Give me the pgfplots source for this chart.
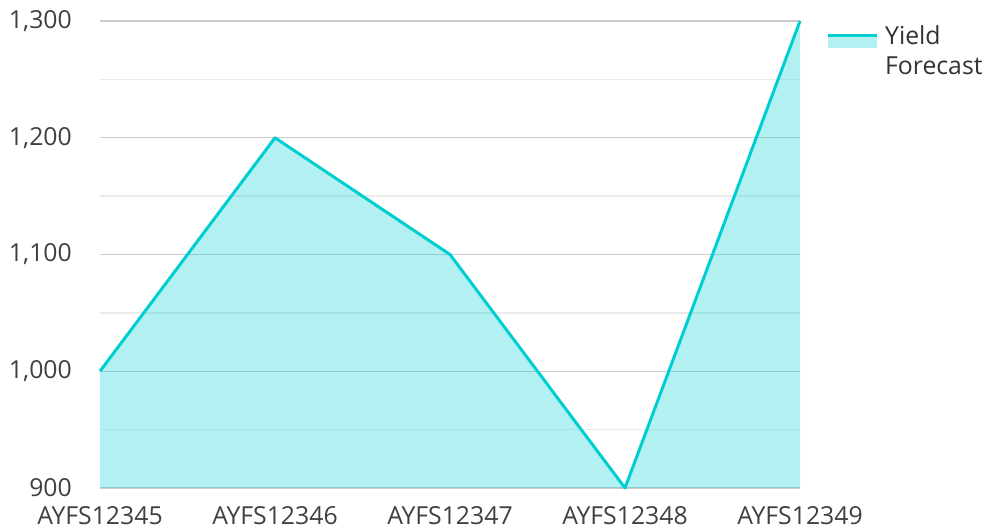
\documentclass[border=0pt]{standalone}
\usepackage{pgfplots}
\pgfplotsset{compat=1.18}
\usepackage{fontspec}
\setmainfont{Open Sans}
\definecolor{turq}{HTML}{00CED1}
\definecolor{ticktxt}{HTML}{404040}
\begin{document}
\fontsize{24.8}{31}\selectfont
\begin{tikzpicture}
\begin{axis}[
  name=ax,
  scale only axis,
  width=700pt, height=467pt,
  xmin=0, xmax=4, ymin=900, ymax=1300,
  xtick={0,1,2,3,4},
  xticklabels={AYFS12345,AYFS12346,AYFS12347,AYFS12348,AYFS12349},
  ytick={900,1000,1100,1200,1300},
  minor ytick={950,1050,1150,1250},
  axis line style={draw=none},
  major tick length=0pt, minor tick length=0pt,
  ymajorgrids, yminorgrids,
  major grid style={black, opacity=0.2, line width=1.3pt},
  minor grid style={black, opacity=0.08, line width=1.3pt},
  /pgf/number format/assume math mode=true,
  /pgf/number format/1000 sep={,},
  yticklabel style={anchor=east, inner sep=0pt, xshift=-28pt, text=ticktxt, font=\fontsize{24.8}{28}\selectfont},
  xticklabel style={anchor=north, inner sep=0pt, yshift=-18pt, text=ticktxt, font=\fontsize{24.8}{28}\selectfont},
  clip=false,
  legend style={draw=none, fill=none, at={(axis description cs:1.037,1.0)}, anchor=north west,
     font=\fontsize{24.8}{31}\selectfont, text=black!80, inner sep=0pt,
     /tikz/every odd column/.append style={column sep=5pt}},
  legend cell align=left,
]
\addplot[draw=none, fill=turq, fill opacity=0.3, forget plot] coordinates {(0,1000) (1,1200) (2,1100) (3,900) (4,1300)} \closedcycle;
\addplot[turq, line width=3pt, line join=round,
  legend image code/.code={
    \path[draw=none, fill=turq, fill opacity=0.3] (0pt,-12pt) rectangle (49pt,0pt);
    \draw[turq, line width=3pt] (0pt,0pt) -- (49pt,0pt);
  }] coordinates {(0,1000) (1,1200) (2,1100) (3,900) (4,1300)};
\addlegendentry{\begin{tabular}[t]{@{}l@{}}Yield\\[-1pt]Forecast\end{tabular}}
\end{axis}
\pgfresetboundingbox
\path ([shift={(-100pt,-41pt)}]ax.south west) rectangle ([shift={(187pt,21pt)}]ax.north east);
\end{tikzpicture}
\end{document}
